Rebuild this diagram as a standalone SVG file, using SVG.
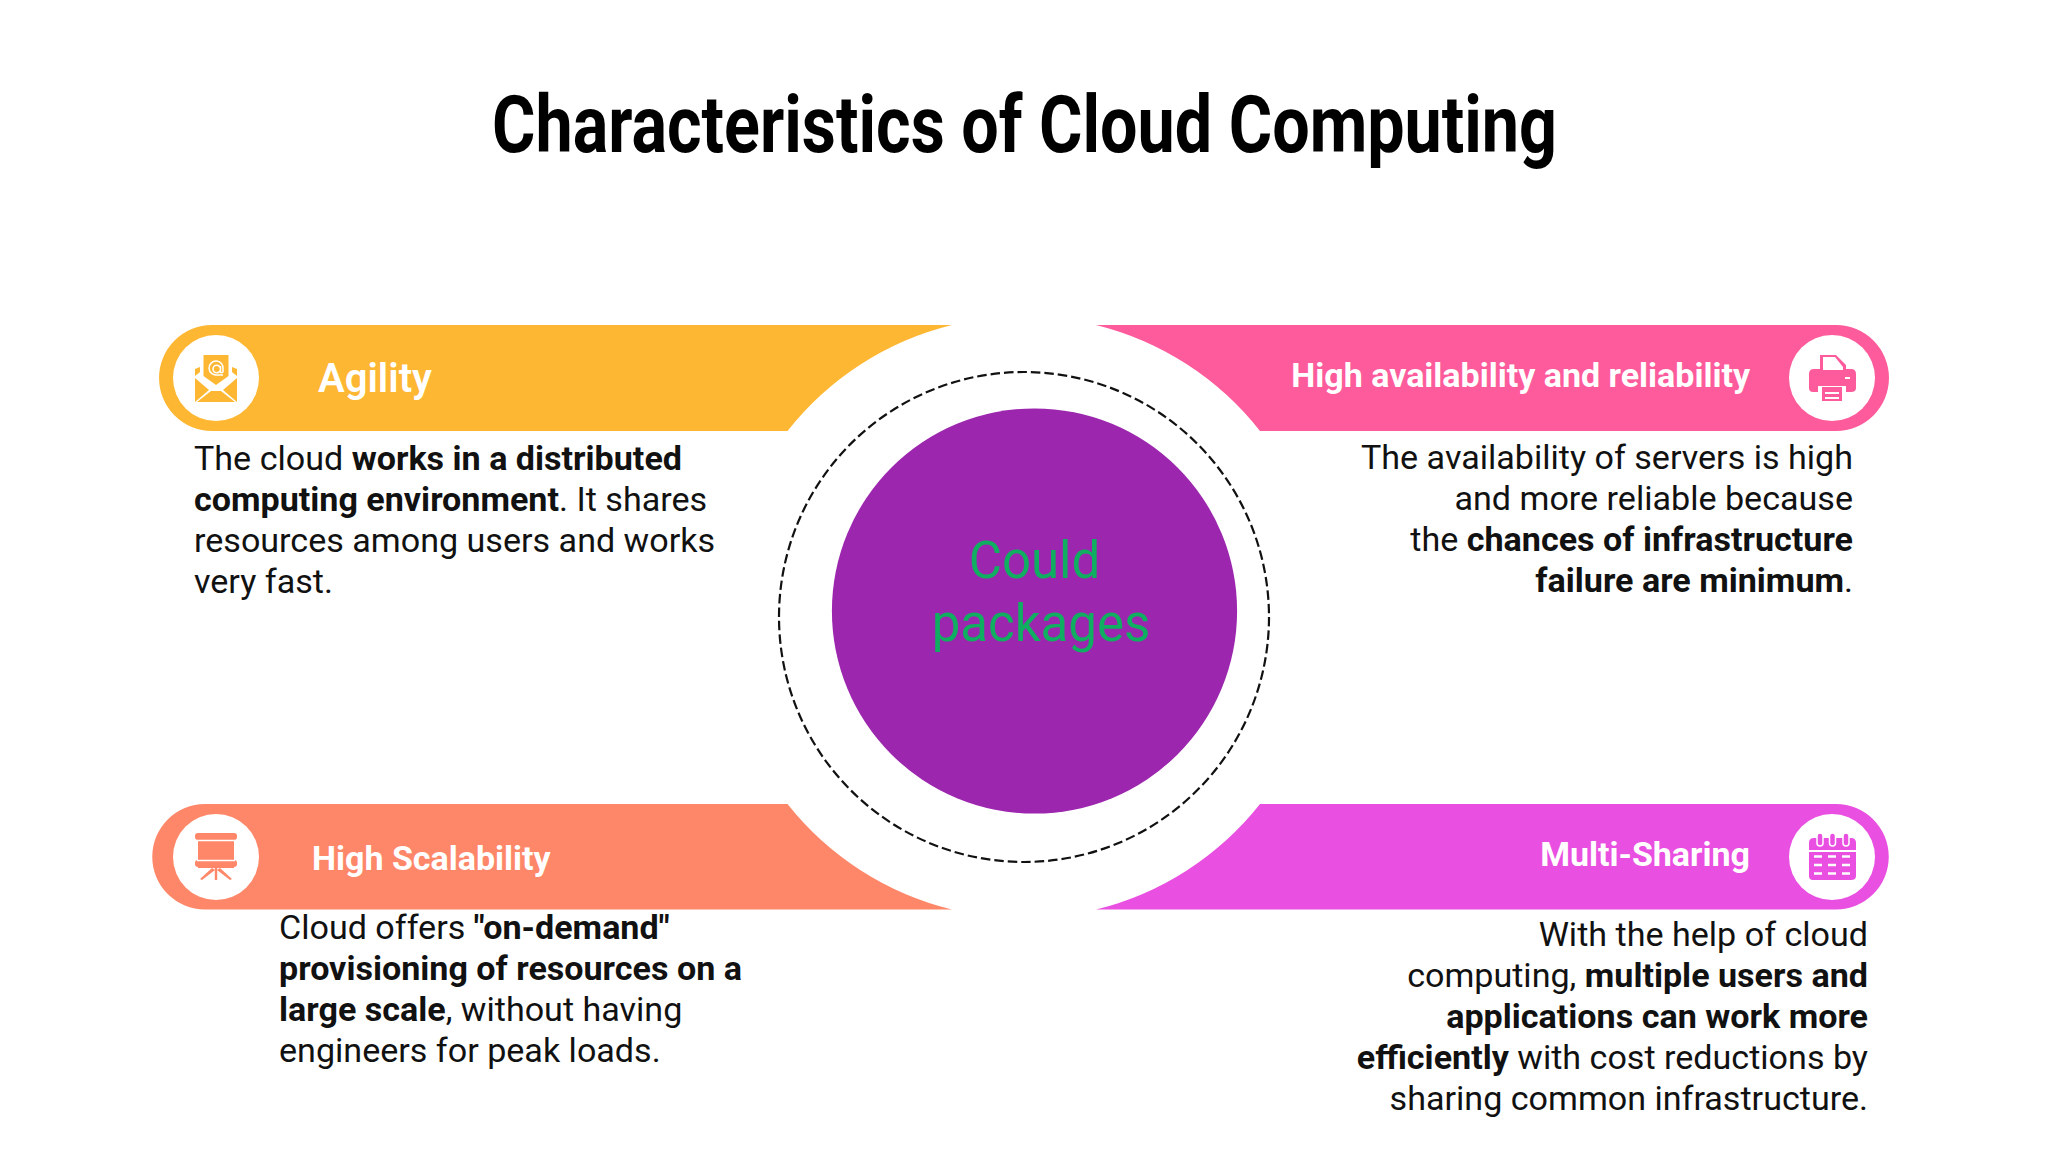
<svg xmlns="http://www.w3.org/2000/svg" width="2048" height="1152" viewBox="0 0 2048 1152">
<style>
text{font-family:Roboto,"Liberation Sans",sans-serif;fill:#111}
.t{font-size:34.1px}
.e{text-anchor:end}
.b{font-weight:700}
.h{fill:#fff;font-weight:700;font-size:34px}
</style>
<rect width="2048" height="1152" fill="#fff"/>
<text id="title" x="492" y="152" font-size="79" font-weight="700" textLength="1065" lengthAdjust="spacingAndGlyphs" style="font-family:'Liberation Sans Narrow',Roboto,sans-serif;fill:#000">Characteristics of Cloud Computing</text>
<g id="center">
<circle cx="1034.5" cy="611" r="202.6" fill="#9C27AE"/>
<text x="1034.5" y="578" font-size="51" text-anchor="middle" style="fill:#10AE60">Could</text>
<text x="1041" y="641" font-size="51" text-anchor="middle" style="fill:#10AE60">packages</text>
</g>
<g id="connectors">
<circle cx="1024" cy="617" r="245" fill="none" stroke="#111" stroke-width="2.2" stroke-dasharray="9.5 4"/>
</g>
<g id="agility">
<path d="M212,325H952A300.7,300.7 0 0 0 787.5,431H212A53,53 0 0 1 212,325Z" fill="#FDB733"/>
<circle cx="216" cy="378" r="43" fill="#fff"/>
<g fill="#FDB733">
<path d="M203.500,355H228.500V376L216,385L203.500,376Z"/>
<path d="M200,367V372L195,376V369ZM232,367V372L237,376V369Z"/>
<path d="M195,378L209,390L195,402ZM237,378L223,390L237,402ZM197,402L211,391H221L235,402Z"/>
</g>
<path d="M223,375H217A7,7 0 1 1 223,369V371.500Q223,373 220.500,372.500V366M220.500,369A3.500,3.500 0 1 1 213,369A3.500,3.500 0 1 1 220.500,369" fill="none" stroke="#fff" stroke-width="1.500"/>
<text class="h" x="318" y="392" style="font-size:40px;font-weight:600">Agility</text>
<text class="t" x="194" y="470">The cloud <tspan class="b">works in a distributed</tspan></text>
<text class="t" x="194" y="511"><tspan class="b">computing environment</tspan>. It shares</text>
<text class="t" x="194" y="552">resources among users and works</text>
<text class="t" x="194" y="593">very fast.</text>
</g>
<g id="availability">
<path d="M1096,325A300.7,300.7 0 0 1 1260,431H1836A53,53 0 0 0 1836,325Z" fill="#FD5B9B"/>
<circle cx="1832" cy="378" r="43" fill="#fff"/>
<path fill="#FD5B9B" d="M1820,355H1836L1846,365V369H1851Q1856,369 1856,374V388Q1856,392 1851,392H1846V386H1818V392H1813Q1809,392 1809,388V374Q1809,369 1814,369H1820Z"/>
<path fill="#fff" d="M1823,357H1835L1843,367V370H1823Z"/>
<path fill="#FD5B9B" d="M1822,387H1842V401H1822Z"/>
<path fill="#fff" d="M1825,392H1839V394H1825ZM1825,397H1839V399H1825ZM1845,377H1850V379H1845Z"/>
<text class="h e" x="1750" y="387">High availability and reliability</text>
<text class="t e" x="1853" y="469">The availability of servers is high</text>
<text class="t e" x="1853" y="510">and more reliable because</text>
<text class="t e" x="1853" y="551">the <tspan class="b">chances of infrastructure</tspan></text>
<text class="t e" x="1853" y="592"><tspan class="b">failure are minimum</tspan>.</text>
</g>
<g id="scalability">
<path d="M205,804H787.5A300.7,300.7 0 0 0 952,909.500H205A52.750,52.750 0 0 1 205,804Z" fill="#FF8769"/>
<circle cx="216" cy="857" r="43" fill="#fff"/>
<g fill="#FF8769">
<rect x="195" y="833" width="42" height="7" rx="3"/>
<rect x="198" y="841" width="36" height="27"/>
<rect x="195" y="860" width="42" height="7" rx="3"/>
<path d="M214.800,867H217.200V880H214.800ZM212,868L215,870L202,880L200,879ZM220,868L217,870L230,880L232,879Z"/>
</g>
<path d="M197,840.500H235M197,860.500H235" stroke="#fff" stroke-width="1.500"/>
<text class="h" x="312" y="870">High Scalability</text>
<text class="t" x="279" y="939">Cloud offers <tspan class="b">"on-demand"</tspan></text>
<text class="t" x="279" y="980"><tspan class="b">provisioning of resources on a</tspan></text>
<text class="t" x="279" y="1021"><tspan class="b">large scale</tspan>, without having</text>
<text class="t" x="279" y="1062">engineers for peak loads.</text>
</g>
<g id="multisharing">
<path d="M1260,804H1836A52.750,52.750 0 0 1 1836,909.500H1096A300.7,300.7 0 0 0 1260,804Z" fill="#E94FE0"/>
<circle cx="1832" cy="857" r="43" fill="#fff"/>
<path fill="#E94FE0" d="M1809,843Q1809,838 1814,838H1851Q1856,838 1856,843V850H1809ZM1809,852H1856V876Q1856,880 1851,880H1813Q1809,880 1809,876Z"/>
<g fill="#E94FE0" stroke="#fff" stroke-width="1.500"><rect x="1817" y="833" width="6" height="13" rx="3"/><rect x="1829.500" y="833" width="6" height="13" rx="3"/><rect x="1843" y="833" width="6" height="13" rx="3"/></g>
<path stroke="#fff" stroke-width="2.500" stroke-dasharray="8 6" d="M1814,856.500H1852M1814,865H1852M1814,873.500H1852"/>
<text class="h e" x="1750" y="866">Multi-Sharing</text>
<text class="t e" x="1868" y="946">With the help of cloud</text>
<text class="t e" x="1868" y="987">computing, <tspan class="b">multiple users and</tspan></text>
<text class="t e" x="1868" y="1028"><tspan class="b">applications can work more</tspan></text>
<text class="t e" x="1868" y="1069"><tspan class="b">efficiently</tspan> with cost reductions by</text>
<text class="t e" x="1868" y="1110">sharing common infrastructure.</text>
</g>
</svg>
